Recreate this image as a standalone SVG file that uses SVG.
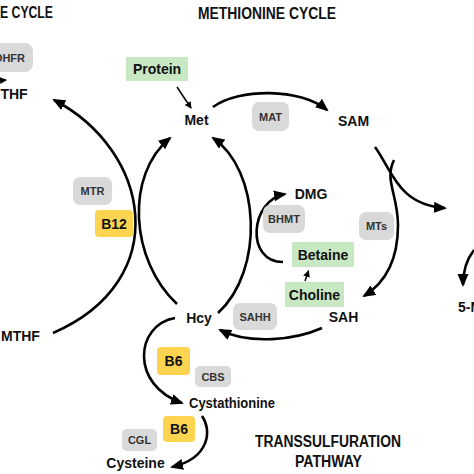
<svg xmlns="http://www.w3.org/2000/svg" width="474" height="474" viewBox="0 0 474 474">
<style>
text{font-family:"Liberation Sans",Arial,sans-serif;font-weight:bold;fill:#111}
.m{font-size:14px;text-anchor:middle}
.bx{font-size:11px;text-anchor:middle;fill:#333}
.bg{font-size:14px;text-anchor:middle;fill:#111}
.title{font-size:16px}
.g{fill:#d9d9d9}
.gr{fill:#c8e7c3}
.y{fill:#fdd44f}
.arc{fill:none;stroke:#000;stroke-width:2.6}
.thin{fill:none;stroke:#000;stroke-width:1.5}
</style>
<defs>
<marker id="ah" markerUnits="userSpaceOnUse" markerWidth="14" markerHeight="12" refX="11" refY="5.5" orient="auto">
<path d="M0,0 L13,5.5 L0,11 z" fill="#000"/>
</marker>
<marker id="as" markerUnits="userSpaceOnUse" markerWidth="8" markerHeight="8" refX="6" refY="3.5" orient="auto">
<path d="M0,0 L7,3.5 L0,7 z" fill="#000"/>
</marker>
</defs>
<rect width="474" height="474" fill="#fff"/>

<g id="titles">
<text class="title" x="0" y="18" textLength="53" lengthAdjust="spacingAndGlyphs">E CYCLE</text>
<text class="title" x="198" y="19" textLength="138" lengthAdjust="spacingAndGlyphs">METHIONINE CYCLE</text>
<text class="title" x="255" y="447" textLength="146" lengthAdjust="spacingAndGlyphs">TRANSSULFURATION</text>
<text class="title" x="295" y="467" textLength="67" lengthAdjust="spacingAndGlyphs">PATHWAY</text>
</g>

<g id="connectors">
<path class="arc" d="M53,333 C175,280 150,150 54,100" marker-end="url(#ah)"/>
<path class="arc" d="M177,304 C130,260 125,175 170,138" marker-end="url(#ah)"/>
<path class="arc" d="M218,313 C265,270 260,170 213,138" marker-end="url(#ah)"/>
<path class="arc" d="M213,107 C240,88 300,88 327,110" marker-end="url(#ah)"/>
<path class="arc" d="M375,147 C392,170 398,205 445,208" marker-end="url(#ah)"/>
<path class="arc" d="M394,160 C384,180 398,195 398,225 C398,260 385,283 364,296" marker-end="url(#ah)"/>
<path class="arc" d="M283,262 C245,262 250,200 285,194" marker-end="url(#ah)"/>
<path class="arc" d="M322,328 C295,340 250,345 220,330" marker-end="url(#ah)"/>
<path class="arc" d="M175,318 C135,325 130,385 182,403" marker-end="url(#ah)"/>
<path class="arc" d="M202,416 C212,430 210,458 172,467" marker-end="url(#ah)"/>
<path class="arc" d="M474,250 C466,260 463,270 463,285" marker-end="url(#ah)"/>
<path class="thin" d="M-4,81 L6,80" marker-end="url(#as)"/>
<path class="thin" d="M177,87 L191,108" marker-end="url(#as)"/>
<path class="thin" d="M305,281 L308.5,271" marker-end="url(#as)"/>
</g>

<g id="DHFR"><rect class="g" x="-12" y="43" width="45" height="29" rx="8"/><text class="bx" x="25" y="62" style="text-anchor:end">DHFR</text></g>
<g id="THF"><text class="m" x="14" y="99">THF</text></g>
<g id="MTHF"><text class="m" x="1" y="341" style="text-anchor:start">MTHF</text></g>
<g id="Protein"><rect class="gr" x="126" y="57" width="62" height="24"/><text class="bg" x="157" y="74">Protein</text></g>
<g id="Met"><text class="m" x="196.5" y="125">Met</text></g>
<g id="MAT"><rect class="g" x="252" y="102" width="37" height="29" rx="7"/><text class="bx" x="270.5" y="120.5">MAT</text></g>
<g id="SAM"><text class="m" x="353.5" y="126">SAM</text></g>
<g id="MTR"><rect class="g" x="73" y="177" width="39" height="28" rx="7"/><text class="bx" x="92.5" y="195">MTR</text></g>
<g id="B12"><rect class="y" x="95" y="210" width="38" height="27" rx="4"/><text class="bg" x="114" y="229">B12</text></g>
<g id="DMG"><text class="m" x="311" y="199">DMG</text></g>
<g id="BHMT"><rect class="g" x="263" y="205" width="42" height="28" rx="7"/><text class="bx" x="284" y="223">BHMT</text></g>
<g id="MTs"><rect class="g" x="359" y="212" width="35" height="28" rx="7"/><text class="bx" x="376.5" y="230">MTs</text></g>
<g id="Betaine"><rect class="gr" x="292" y="242" width="62" height="25"/><text class="bg" x="323" y="259.5">Betaine</text></g>
<g id="Choline"><rect class="gr" x="285" y="282" width="59" height="25"/><text class="bg" x="314.5" y="299.5">Choline</text></g>
<g id="FiveM"><text class="m" x="458" y="312" style="text-anchor:start">5-M</text></g>
<g id="Hcy"><text class="m" x="199" y="323">Hcy</text></g>
<g id="SAHH"><rect class="g" x="233" y="303" width="44" height="27" rx="7"/><text class="bx" x="255" y="320.5">SAHH</text></g>
<g id="SAH"><text class="m" x="343.5" y="322">SAH</text></g>
<g id="B6a"><rect class="y" x="157" y="347" width="33" height="28" rx="4"/><text class="bg" x="173.5" y="366">B6</text></g>
<g id="CBS"><rect class="g" x="195" y="366" width="36" height="21" rx="5"/><text class="bx" x="213" y="380.5">CBS</text></g>
<g id="Cystathionine"><text class="m" x="232" y="408" textLength="86" lengthAdjust="spacingAndGlyphs">Cystathionine</text></g>
<g id="B6b"><rect class="y" x="163" y="416" width="32" height="26" rx="4"/><text class="bg" x="179" y="434">B6</text></g>
<g id="CGL"><rect class="g" x="122" y="429" width="35" height="22" rx="5"/><text class="bx" x="139.5" y="444">CGL</text></g>
<g id="Cysteine"><text class="m" x="135.5" y="468">Cysteine</text></g>
</svg>
